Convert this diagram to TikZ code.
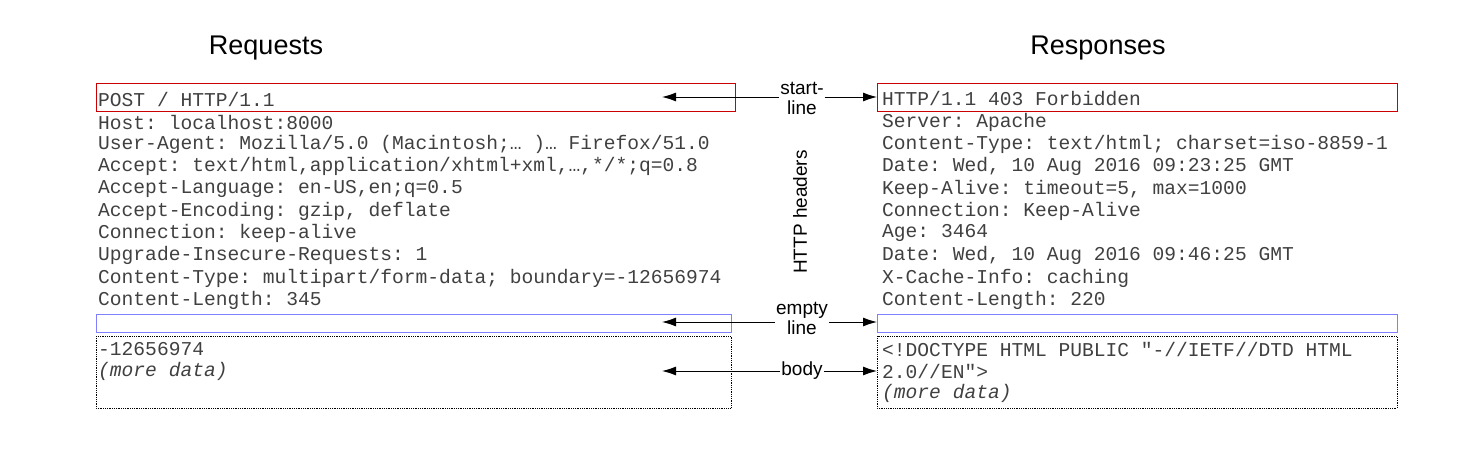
\documentclass[tikz,border=0pt]{standalone}
\usepackage{fontspec}
\setmainfont{Liberation Sans}
\setmonofont{Liberation Mono}
\usetikzlibrary{arrows.meta}
\tikzset{
 ln/.style={anchor=west,inner sep=0pt,font=\ttfamily\fontsize{19.6}{22}\selectfont,text=black!75},
 hd/.style={font=\fontsize{27}{30}\selectfont},
 lab/.style={font=\fontsize{19}{20}\selectfont,align=center,inner sep=1pt},
 arr/.style={-{Latex[length=14pt,width=9pt]},line width=0.9pt},
 redbox/.style={draw=red!80!black,line width=0.8pt},
 bluebox/.style={draw=blue!50,line width=0.8pt},
 dotbox/.style={draw=black,densely dotted,line width=0.8pt}
}
\begin{document}
\begin{tikzpicture}[x=1pt,y=-1pt]
\useasboundingbox (0,0) rectangle (1478,474);
\node[hd] (hreq) at (266,48) {Requests};
\node[hd] (hres) at (1098,48) {Responses};
\draw[redbox] (96,83) rectangle (735,111);
\draw[bluebox] (96,314) rectangle (731,332);
\draw[dotbox] (96,336) rectangle (731,408);
\draw[redbox] (877,83) rectangle (1397,111);
\draw[bluebox] (877,314) rectangle (1397,332);
\draw[dotbox] (877,336) rectangle (1397,408);
% left lines
\node[ln] (l1) at (98,99) {POST / HTTP/1.1};
\node[ln] (l2) at (98,122) {Host: localhost:8000};
\node[ln] (l3) at (98,144) {User-Agent: Mozilla/5.0 (Macintosh;… )… Firefox/51.0};
\node[ln] (l4) at (98,166) {Accept:  text/html,application/xhtml+xml,…,*/*;q=0.8};
\node[ln] (l5) at (98,189) {Accept-Language: en-US,en;q=0.5};
\node[ln] (l6) at (98,211) {Accept-Encoding: gzip, deflate};
\node[ln] (l7) at (98,233) {Connection: keep-alive};
\node[ln] (l8) at (98,255) {Upgrade-Insecure-Requests: 1};
\node[ln] (l9) at (98,278) {Content-Type: multipart/form-data; boundary=-12656974};
\node[ln] (l10) at (98,300) {Content-Length: 345};
\node[ln] (lb1) at (98,349) {-12656974};
\node[ln] (lb2) at (98,371) {\itshape (more data)};
% right lines
\node[ln] (r1) at (882,99) {HTTP/1.1 403 Forbidden};
\node[ln] (r2) at (882,122) {Server: Apache};
\node[ln] (r3) at (882,144) {Content-Type: text/html; charset=iso-8859-1};
\node[ln] (r4) at (882,166) {Date: Wed, 10 Aug 2016 09:23:25 GMT};
\node[ln] (r5) at (882,189) {Keep-Alive: timeout=5, max=1000};
\node[ln] (r6) at (882,211) {Connection: Keep-Alive};
\node[ln] (r7) at (882,233) {Age: 3464};
\node[ln] (r8) at (882,255) {Date: Wed, 10 Aug 2016 09:46:25 GMT};
\node[ln] (r9) at (882,278) {X-Cache-Info: caching};
\node[ln] (r10) at (882,300) {Content-Length: 220};
\node[ln] (rb1) at (882,349) {<!DOCTYPE HTML PUBLIC "-//IETF//DTD HTML};
\node[ln] (rb2) at (882,371) {2.0//EN">};
\node[ln] (rb3) at (882,393) {\itshape (more data)};
% middle labels
\node[lab] (sl) at (802,98) {start-\\line};
\node[lab] (el) at (802,318) {empty\\line};
\node[lab] (bd) at (802,371) {body};
\node[lab,rotate=90] (hh) at (800,212) {HTTP headers};
\coordinate (sll) at (662,97); \coordinate (slr) at (877,97);
\coordinate (ell) at (662,322); \coordinate (elr) at (877,322);
\coordinate (bdl) at (662,371); \coordinate (bdr) at (877,371);
\draw[arr] (sl.west |- sll) -- (sll);
\draw[arr] (sl.east |- slr) -- (slr);
\draw[arr] (el.west |- ell) -- (ell);
\draw[arr] (el.east |- elr) -- (elr);
\draw[arr] (bd.west) -- (bdl);
\draw[arr] (bd.east) -- (bdr);
\end{tikzpicture}
\end{document}
